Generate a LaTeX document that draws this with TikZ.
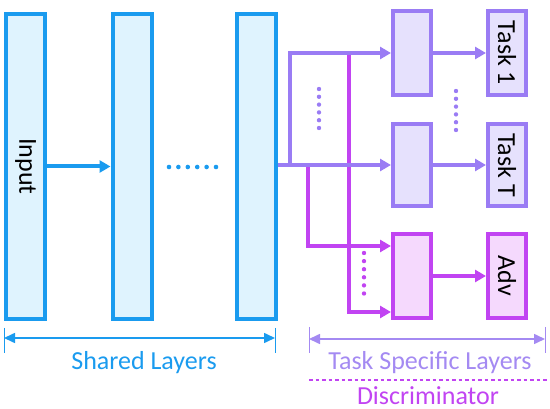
\documentclass[tikz,border=0pt]{standalone}
\usepackage{fontspec}
\setmainfont{Carlito}
\usetikzlibrary{arrows.meta}
\definecolor{cblue}{HTML}{1A9BEF}
\definecolor{cbluef}{HTML}{DFF3FE}
\definecolor{cpurp}{HTML}{9A7CF4}
\definecolor{cpurpf}{HTML}{E6E1FD}
\definecolor{cpurpt}{HTML}{A48AF2}
\definecolor{cmag}{HTML}{C144F2}
\definecolor{cmagf}{HTML}{F5D9FD}
\tikzset{
  layer/.style={draw=cblue, fill=cbluef, line width=4pt, inner sep=0pt, minimum width=39pt, minimum height=305pt},
  pbox/.style={draw=cpurp, fill=cpurpf, line width=4pt, inner sep=0pt, minimum width=38pt, minimum height=84pt},
  mbox/.style={draw=cmag, fill=cmagf, line width=4pt, inner sep=0pt, minimum width=38pt, minimum height=84pt},
  conn/.style={line width=4pt, -{Triangle[length=11pt,width=12pt]}},
  brk/.style={line width=1.6pt, {Triangle[length=11pt,width=10pt]}-{Triangle[length=11pt,width=10pt]}},
  tick/.style={line width=1pt},
  txt/.style={font=\fontsize{26}{30}\selectfont, inner sep=0pt},
}
\begin{document}
\begin{tikzpicture}[x=1pt,y=-1pt]
\useasboundingbox (0,0) rectangle (550,409);
% shared layers
\node[layer] (input) at (25.5,166.5) {\fontsize{26}{30}\selectfont\rotatebox{-90}{Input}};
\node[layer] (l2) at (132,166.5) {};
\node[layer] (l3) at (256,166.5) {};
\draw[conn, cblue] (input.east) -- (l2.west);
\foreach \i in {0,...,5} \fill[cblue] (169+9.4*\i,167) circle (2.3);
% task specific
\node[pbox] (b1) at (412,53) {};
\node[pbox] (t1) at (507,53) {\fontsize{26}{30}\selectfont\rotatebox{-90}{Task 1}};
\node[pbox, minimum height=82pt] (bT) at (412,165) {};
\node[pbox, minimum height=82pt] (tT) at (507,165) {\fontsize{26}{30}\selectfont\rotatebox{-90}{Task T}};
\node[mbox] (d) at (412,276) {};
\node[mbox] (adv) at (507,276) {\fontsize{26}{30}\selectfont\rotatebox{-90}{Adv}};
% coordinates
\coordinate (s0) at (l3.east |- bT.west);
\coordinate (p1) at (290,165);
\coordinate (m1) at (349,53);
\coordinate (m2) at (308,165);
\coordinate (d1) at ([yshift=-36pt]d.west);
\coordinate (d2) at ([yshift=30pt]d.west);
% magenta connectors (below purple)
\draw[conn, cmag] (m1) |- (d1);
\draw[conn, cmag] (m2) |- (d2);
% purple connectors
\draw[conn, cpurp] (s0) -- (bT.west);
\draw[conn, cpurp] (p1) |- (b1.west);
\draw[conn, cpurp] (b1.east) -- (t1.west);
\draw[conn, cpurp] (bT.east) -- (tT.west);
\draw[conn, cmag] (d.east) -- (adv.west);
% dots
\foreach \i in {0,...,5} \fill[cpurp] (319,89+7.8*\i) circle (2.2);
\foreach \i in {0,...,5} \fill[cpurp] (456,91+7.8*\i) circle (2.2);
\foreach \i in {0,...,5} \fill[cmag] (364,253+8.1*\i) circle (2.2);
% brackets
\coordinate (sa) at (4,338);
\coordinate (sb) at (275,338);
\draw[brk, cblue] (sa) -- (sb);
\draw[tick, cblue] (4,328) -- (4,353);
\draw[tick, cblue] (275,328) -- (275,353);
\node[txt, text=cblue, anchor=base] (shared) at (144,370) {Shared Layers};
\coordinate (ta) at (309,339);
\coordinate (tb) at (545,339);
\draw[brk, cpurpt] (ta) -- (tb);
\draw[tick, cpurpt] (309,327) -- (309,353);
\draw[tick, cpurpt] (545,327) -- (545,353);
\node[txt, text=cpurpt, anchor=base] (tsl) at (430,370) {Task Specific Layers};
\draw[cmag, line width=1.3pt, dash pattern=on 3.5pt off 3pt] (309,380) -- (548,380);
\node[txt, text=cmag, anchor=base] (disc) at (428,405) {Discriminator};
\end{tikzpicture}
\end{document}
